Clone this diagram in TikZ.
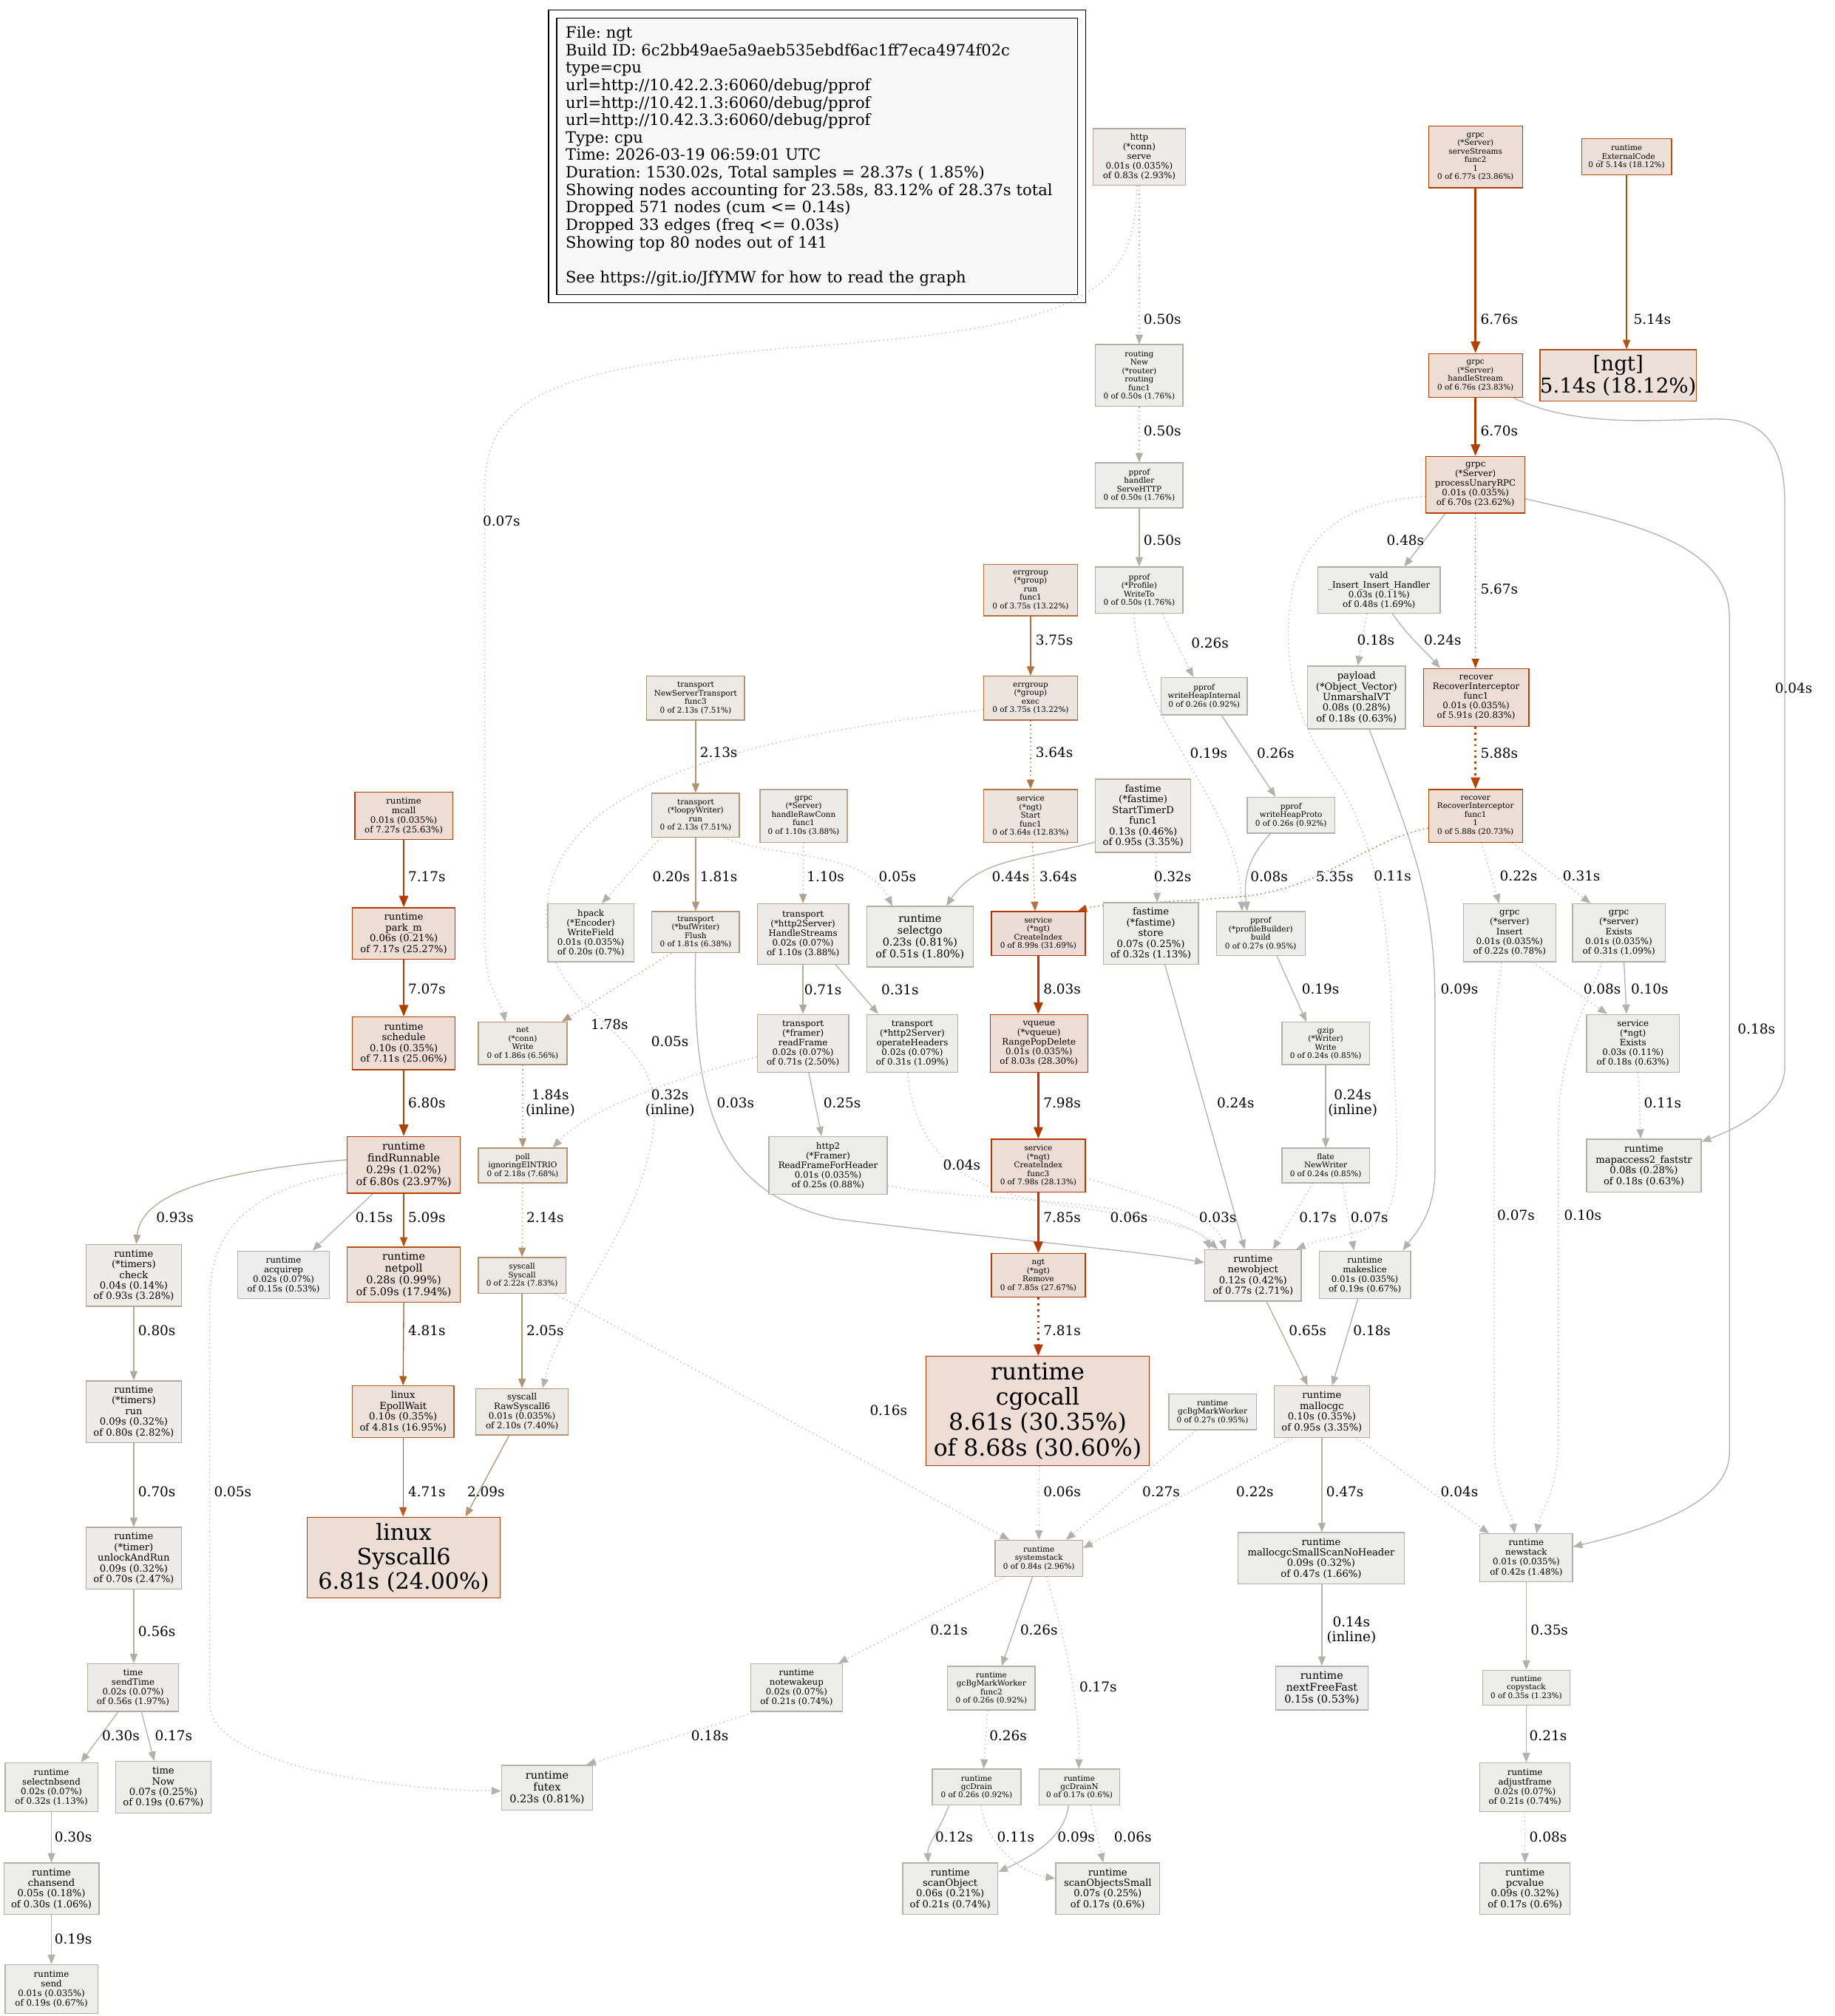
\documentclass[tikz,border=0pt]{standalone}
\usepackage{fontspec}
\setmainfont{DejaVu Serif}
\usetikzlibrary{arrows.meta,backgrounds}

\newcommand\mkcol[2]{%
  \pgfmathsetmacro\ppS{#2}%
  \pgfmathsetmacro\ppA{(\ppS<0.2) ? (\ppS/0.2) : 1}%
  \pgfmathsetmacro\ppP{pow(\ppS,0.3)}%
  \pgfmathsetmacro\ppFG{0.7*(1-\ppA*\ppP)}%
  \pgfmathsetmacro\ppFB{0.7*(1-\ppA)}%
  \pgfmathsetmacro\ppBG{0.93*(1-0.1*\ppA*\ppP)}%
  \pgfmathsetmacro\ppBB{0.93*(1-0.1*\ppA)}%
  \definecolor{#1fg}{rgb}{0.7,\ppFG,\ppFB}%
  \definecolor{#1bg}{rgb}{0.93,\ppBG,\ppBB}%
}
\frenchspacing
\newcommand\fza{\fontsize{6.0pt}{6.6pt}\selectfont}
\newcommand\fzb{\fontsize{6.8pt}{7.5pt}\selectfont}
\newcommand\fzc{\fontsize{7.55pt}{8.3pt}\selectfont}
\newcommand\fzd{\fontsize{8.3pt}{9.2pt}\selectfont}
\newcommand\fzu{\fontsize{15.9pt}{17.3pt}\selectfont}
\newcommand\fzv{\fontsize{17.4pt}{19pt}\selectfont}
\newcommand\fzw{\fontsize{18.1pt}{19.6pt}\selectfont}
\newcommand\fzl{\fontsize{10.6pt}{11.4pt}\selectfont}
\newcommand\fzg{\fontsize{12.1pt}{13.6pt}\selectfont\frenchspacing}
\definecolor{legbg}{rgb}{0.973,0.973,0.973}

\tikzset{
 nbox/.style={draw, rectangle, inner sep=0pt, align=center, line width=0.75pt},
 ed/.style={line width=0.75pt, -{Triangle[length=7.3pt,width=5.8pt]}},
 hv/.style={line width=1.5pt, -{Triangle[length=9pt,width=7pt]}},
 dt/.style={dash pattern=on 0.75pt off 2.5pt},
 hvd/.style={dash pattern=on 1.5pt off 3pt},
 wt/.code={\mkcol{ec}{#1/28.37}\pgfkeysalso{draw=ecfg}},
 lb/.style={font=\fzl, inner sep=0pt, align=center},
}

\newcommand\NB[8]{%
  \mkcol{#1}{#7/100}%
  \node[nbox, fill=#1bg, draw=#1fg, font=#6, minimum width=#4pt, minimum height=#5pt] (#1) at (#2,#3) {#8};%
}

\begin{document}
\begin{tikzpicture}[x=1pt,y=-1pt]
\useasboundingbox (0,0) rectangle (1427,1568);
\begin{pgfonlayer}{background}
\fill[white] (0,0) rectangle (1427,1568);
\end{pgfonlayer}

% legend
\node[draw, fill=legbg, line width=0.8pt, inner sep=0pt, minimum width=405pt, minimum height=215pt, text width=391pt, align=left, font=\fzg] (leg) at (635.5,121.5) {File: ngt\\Build ID: 6c2bb49ae5a9aeb535ebdf6ac1ff7eca4974f02c\\type=cpu\\url=http://10.42.2.3:6060/debug/pprof\\url=http://10.42.1.3:6060/debug/pprof\\url=http://10.42.3.3:6060/debug/pprof\\Type: cpu\\Time: 2026-03-19 06:59:01 UTC\\Duration: 1530.02s, Total samples = 28.37s ( 1.85\%)\\Showing nodes accounting for 23.58s, 83.12\% of 28.37s total\\Dropped 571 nodes (cum <= 0.14s)\\Dropped 33 edges (freq <= 0.03s)\\Showing top 80 nodes out of 141\\[13.6pt]See https://git.io/JfYMW for how to read the graph};
\draw[line width=0.8pt] ([shift={(-6pt,6pt)}]leg.north west) rectangle ([shift={(6pt,-6pt)}]leg.south east);

% nodes
\NB{http}{886}{122}{72}{44}{\fzb}{2.93}{http\\(*conn)\\serve\\0.01s (0.035\%)\\of 0.83s (2.93\%)}
\NB{route}{886}{292}{68}{48}{\fza}{1.76}{routing\\New\\(*router)\\routing\\func1\\0 of 0.50s (1.76\%)}
\NB{serve}{886}{377.5}{68}{35}{\fza}{1.76}{pprof\\handler\\ServeHTTP\\0 of 0.50s (1.76\%)}
\NB{writeto}{886}{459}{68}{36}{\fza}{1.76}{pprof\\(*Profile)\\WriteTo\\0 of 0.50s (1.76\%)}
\NB{whi}{936.5}{541.5}{67}{29}{\fza}{0.92}{pprof\\writeHeapInternal\\0 of 0.26s (0.92\%)}
\NB{whp}{1004}{634}{68}{28}{\fza}{0.92}{pprof\\writeHeapProto\\0 of 0.26s (0.92\%)}
\NB{build}{980.5}{726}{69}{34}{\fza}{0.95}{pprof\\(*profileBuilder)\\build\\0 of 0.27s (0.95\%)}
\NB{gzip}{1031}{811.5}{68}{33}{\fza}{0.85}{gzip\\(*Writer)\\Write\\0 of 0.24s (0.85\%)}
\NB{flate}{1031}{906.5}{68}{27}{\fza}{0.85}{flate\\NewWriter\\0 of 0.24s (0.85\%)}
\NB{ftimer}{889}{634.5}{74}{57}{\fzc}{3.35}{fastime\\(*fastime)\\StartTimerD\\func1\\0.13s (0.46\%)\\of 0.95s (3.35\%)}
\NB{fstore}{895}{726}{74}{48}{\fzc}{1.13}{fastime\\(*fastime)\\store\\0.07s (0.25\%)\\of 0.32s (1.13\%)}
\NB{start}{801.5}{634.5}{73}{41}{\fza}{12.83}{service\\(*ngt)\\Start\\func1\\0 of 3.64s (12.83\%)}
\NB{cidx}{807.5}{726}{73}{34}{\fza}{31.69}{service\\(*ngt)\\CreateIndex\\0 of 8.99s (31.69\%)}
\NB{vq}{808}{811.5}{76}{45}{\fzb}{28.30}{vqueue\\(*vqueue)\\RangePopDelete\\0.01s (0.035\%)\\of 8.03s (28.30\%)}
\NB{fthree}{807.5}{906.5}{73}{41}{\fza}{28.13}{service\\(*ngt)\\CreateIndex\\func3\\0 of 7.98s (28.13\%)}
\NB{rm}{807.5}{992}{73}{34}{\fza}{27.67}{ngt\\(*ngt)\\Remove\\0 of 7.85s (27.67\%)}
\NB{cgo}{807}{1097.5}{174}{85}{\fzw}{30.60}{runtime\\cgocall\\8.61s (30.35\%)\\of 8.68s (30.60\%)}
\NB{newobj}{974.5}{992}{75}{40}{\fzc}{2.71}{runtime\\newobject\\0.12s (0.42\%)\\of 0.77s (2.71\%)}
\NB{mkslice}{1061.5}{991.5}{71}{37}{\fzb}{0.67}{runtime\\makeslice\\0.01s (0.035\%)\\of 0.19s (0.67\%)}
\NB{malloc}{1028}{1098}{74}{40}{\fzc}{3.35}{runtime\\mallocgc\\0.10s (0.35\%)\\of 0.95s (3.35\%)}
\NB{gcbmw}{943}{1098}{68}{28}{\fza}{0.95}{runtime\\gcBgMarkWorker\\0 of 0.27s (0.95\%)}
\NB{sysstk}{808}{1212}{68}{28}{\fza}{2.96}{runtime\\systemstack\\0 of 0.84s (2.96\%)}
\NB{mssnh}{1027.5}{1212}{129}{40}{\fzc}{1.66}{runtime\\mallocgcSmallScanNoHeader\\0.09s (0.32\%)\\of 0.47s (1.66\%)}
\NB{newstack}{1187}{1211.5}{72}{37}{\fzb}{1.48}{runtime\\newstack\\0.01s (0.035\%)\\of 0.42s (1.48\%)}
\NB{notew}{619.5}{1312.5}{71}{37}{\fzb}{0.74}{runtime\\notewakeup\\0.02s (0.07\%)\\of 0.21s (0.74\%)}
\NB{gcftwo}{771}{1313}{68}{34}{\fza}{0.92}{runtime\\gcBgMarkWorker\\func2\\0 of 0.26s (0.92\%)}
\NB{nff}{1028}{1313}{72}{34}{\fzd}{0.53}{runtime\\nextFreeFast\\0.15s (0.53\%)}
\NB{copystk}{1187}{1312.5}{68}{27}{\fza}{1.23}{runtime\\copystack\\0 of 0.35s (1.23\%)}
\NB{sendtime}{103.5}{1312.5}{71}{37}{\fzb}{1.97}{time\\sendTime\\0.02s (0.07\%)\\of 0.56s (1.97\%)}
\NB{selnb}{40}{1390}{72}{38}{\fzb}{1.13}{runtime\\selectnbsend\\0.02s (0.07\%)\\of 0.32s (1.13\%)}
\NB{tnow}{127}{1390}{74}{40}{\fzc}{0.67}{time\\Now\\0.07s (0.25\%)\\of 0.19s (0.67\%)}
\NB{chansend}{40}{1469}{74}{40}{\fzc}{1.06}{runtime\\chansend\\0.05s (0.18\%)\\of 0.30s (1.06\%)}
\NB{rsend}{40}{1547}{72}{38}{\fzb}{0.67}{runtime\\send\\0.01s (0.035\%)\\of 0.19s (0.67\%)}
\NB{futex}{425.5}{1390.5}{71}{35}{\fzd}{0.81}{runtime\\futex\\0.23s (0.81\%)}
\NB{gcdrain}{759.5}{1390}{69}{28}{\fza}{0.92}{runtime\\gcDrain\\0 of 0.26s (0.92\%)}
\NB{gcdrainn}{839.5}{1390}{63}{28}{\fza}{0.6}{runtime\\gcDrainN\\0 of 0.17s (0.6\%)}
\NB{scanobj}{739}{1469}{74}{40}{\fzc}{0.74}{runtime\\scanObject\\0.06s (0.21\%)\\of 0.21s (0.74\%)}
\NB{scansmall}{861.5}{1469}{81}{40}{\fzc}{0.6}{runtime\\scanObjectsSmall\\0.07s (0.25\%)\\of 0.17s (0.6\%)}
\NB{adjf}{1186}{1390}{70}{38}{\fzb}{0.74}{runtime\\adjustframe\\0.02s (0.07\%)\\of 0.21s (0.74\%)}
\NB{pcvalue}{1186}{1469}{70}{40}{\fzc}{0.6}{runtime\\pcvalue\\0.09s (0.32\%)\\of 0.17s (0.6\%)}
\NB{syssix}{314}{1211.5}{150}{63}{\fzv}{24.00}{linux\\Syscall6\\6.81s (24.00\%)}
\NB{findr}{314}{906}{88}{44}{\fzd}{23.97}{runtime\\findRunnable\\0.29s (1.02\%)\\of 6.80s (23.97\%)}
\NB{tcheck}{104}{992}{74}{48}{\fzc}{3.28}{runtime\\(*timers)\\check\\0.04s (0.14\%)\\of 0.93s (3.28\%)}
\NB{acq}{220.5}{991.5}{71}{37}{\fzb}{0.53}{runtime\\acquirep\\0.02s (0.07\%)\\of 0.15s (0.53\%)}
\NB{netpoll}{314}{991.5}{88}{43}{\fzd}{17.94}{runtime\\netpoll\\0.28s (0.99\%)\\of 5.09s (17.94\%)}
\NB{syscall}{406}{992}{68}{28}{\fza}{7.83}{syscall\\Syscall\\0 of 2.22s (7.83\%)}
\NB{trun}{104}{1098}{74}{48}{\fzc}{2.82}{runtime\\(*timers)\\run\\0.09s (0.32\%)\\of 0.80s (2.82\%)}
\NB{epoll}{313.5}{1098}{79}{40}{\fzc}{16.95}{linux\\EpollWait\\0.10s (0.35\%)\\of 4.81s (16.95\%)}
\NB{rawsix}{406}{1098}{72}{36}{\fzb}{7.40}{syscall\\RawSyscall6\\0.01s (0.035\%)\\of 2.10s (7.40\%)}
\NB{unlock}{104}{1212}{74}{48}{\fzc}{2.47}{runtime\\(*timer)\\unlockAndRun\\0.09s (0.32\%)\\of 0.70s (2.47\%)}
\NB{poll}{406.5}{906.5}{69}{27}{\fza}{7.68}{poll\\ignoringEINTRIO\\0 of 2.18s (7.68\%)}
\NB{netw}{406.5}{811.5}{69}{33}{\fza}{6.56}{net\\(*conn)\\Write\\0 of 1.86s (6.56\%)}
\NB{rframe}{624.5}{811.5}{71}{45}{\fzb}{2.50}{transport\\(*framer)\\readFrame\\0.02s (0.07\%)\\of 0.71s (2.50\%)}
\NB{ophdr}{709.5}{811.5}{71}{45}{\fzb}{1.09}{transport\\(*http2Server)\\operateHeaders\\0.02s (0.07\%)\\of 0.31s (1.09\%)}
\NB{rffh}{644}{906.5}{92}{45}{\fzb}{0.88}{http2\\(*Framer)\\ReadFrameForHeader\\0.01s (0.035\%)\\of 0.25s (0.88\%)}
\NB{mcall}{314}{634.5}{76}{37}{\fzb}{25.63}{runtime\\mcall\\0.01s (0.035\%)\\of 7.27s (25.63\%)}
\NB{parkm}{314}{726}{80}{40}{\fzc}{25.27}{runtime\\park\_m\\0.06s (0.21\%)\\of 7.17s (25.27\%)}
\NB{sched}{314}{811.5}{80}{41}{\fzc}{25.06}{runtime\\schedule\\0.10s (0.35\%)\\of 7.11s (25.06\%)}
\NB{hpack}{459.5}{725.5}{67}{45}{\fzb}{0.7}{hpack\\(*Encoder)\\WriteField\\0.01s (0.035\%)\\of 0.20s (0.7\%)}
\NB{loopy}{541}{634}{68}{34}{\fza}{7.51}{transport\\(*loopyWriter)\\run\\0 of 2.13s (7.51\%)}
\NB{nst}{541}{543}{76}{34}{\fza}{7.51}{transport\\NewServerTransport\\func3\\0 of 2.13s (7.51\%)}
\NB{egrun}{801.5}{459}{73}{40}{\fza}{13.22}{errgroup\\(*group)\\run\\func1\\0 of 3.75s (13.22\%)}
\NB{egexec}{801.5}{543}{73}{34}{\fza}{13.22}{errgroup\\(*group)\\exec\\0 of 3.75s (13.22\%)}
\NB{hrc}{625}{634.5}{68}{41}{\fza}{3.88}{grpc\\(*Server)\\handleRawConn\\func1\\0 of 1.10s (3.88\%)}
\NB{flush}{541}{725}{68}{32}{\fza}{6.38}{transport\\(*bufWriter)\\Flush\\0 of 1.81s (6.38\%)}
\NB{hstreams}{624.5}{726.5}{71}{47}{\fzb}{3.88}{transport\\(*http2Server)\\HandleStreams\\0.02s (0.07\%)\\of 1.10s (3.88\%)}
\NB{selectgo}{715.5}{728.5}{83}{47}{\fzd}{1.80}{runtime\\selectgo\\0.23s (0.81\%)\\of 0.51s (1.80\%)}
\NB{vald}{1072.5}{459}{95}{36}{\fzb}{1.69}{vald\\\_Insert\_Insert\_Handler\\0.03s (0.11\%)\\of 0.48s (1.69\%)}
\NB{payload}{1055}{542.5}{76}{49}{\fzc}{0.63}{payload\\(*Object\_Vector)\\UnmarshalVT\\0.08s (0.28\%)\\of 0.18s (0.63\%)}
\NB{rifa}{1148}{542.5}{82}{45}{\fzb}{20.83}{recover\\RecoverInterceptor\\func1\\0.01s (0.035\%)\\of 5.91s (20.83\%)}
\NB{rifb}{1147.5}{634.5}{73}{41}{\fza}{20.73}{recover\\RecoverInterceptor\\func1\\1\\0 of 5.88s (20.73\%)}
\NB{ginsert}{1174}{725.5}{72}{45}{\fzb}{0.78}{grpc\\(*server)\\Insert\\0.01s (0.035\%)\\of 0.22s (0.78\%)}
\NB{gexists}{1259}{725.5}{72}{45}{\fzb}{1.09}{grpc\\(*server)\\Exists\\0.01s (0.035\%)\\of 0.31s (1.09\%)}
\NB{sexists}{1270}{811.5}{72}{45}{\fzb}{0.63}{service\\(*ngt)\\Exists\\0.03s (0.11\%)\\of 0.18s (0.63\%)}
\NB{mapacc}{1278.5}{906.5}{89}{41}{\fzc}{0.63}{runtime\\mapaccess2\_faststr\\0.08s (0.28\%)\\of 0.18s (0.63\%)}
\NB{pur}{1147.5}{377}{77}{44}{\fzb}{23.62}{grpc\\(*Server)\\processUnaryRPC\\0.01s (0.035\%)\\of 6.70s (23.62\%)}
\NB{hstream}{1147.5}{292}{73}{34}{\fza}{23.83}{grpc\\(*Server)\\handleStream\\0 of 6.76s (23.83\%)}
\NB{sstreams}{1147.5}{122}{73}{48}{\fza}{23.86}{grpc\\(*Server)\\serveStreams\\func2\\1\\0 of 6.77s (23.86\%)}
\NB{extcode}{1265}{122}{70}{28}{\fza}{18.12}{runtime\\\_ExternalCode\\0 of 5.14s (18.12\%)}
\NB{ngt}{1258.5}{292}{121}{40}{\fzu}{18.12}{[ngt]\\5.14s (18.12\%)}

% edges
\begin{pgfonlayer}{background}
\draw[ed,dt,wt=0.50] (http.south) -- (route.north);
\draw[ed,dt,wt=0.07] (http.south -| 884,0) .. controls (884,230) and (840,255) .. (620,270) .. controls (450,285) and (377,300) .. (377,380) -- (377,730) .. controls (377,770) and (390,780) .. (netw.north -| 393,0);
\draw[ed,dt,wt=0.50] (route.south) -- (serve.north);
\draw[ed,wt=0.50] (serve.south) -- (writeto.north);
\draw[ed,dt,wt=0.26] (writeto.south -| 904,0) -- (whi.north -| 928,0);
\draw[ed,dt,wt=0.19] (writeto.south -| 882,0) .. controls (886,570) and (963,620) .. (build.north -| 966,0);
\draw[ed,wt=0.26] (whi.south -| 950,0) -- (whp.north -| 992,0);
\draw[ed,wt=0.08] (whp.south -| 988,0) .. controls (966,672) and (968,690) .. (build.north -| 970,0);
\draw[ed,wt=0.19] (build.south -| 993,0) -- (gzip.north -| 1016,0);
\draw[ed,wt=0.24] (gzip.south) -- (flate.north);
\draw[ed,dt,wt=0.17] (flate.south -| 1021,0) -- (newobj.north -| 990,0);
\draw[ed,dt,wt=0.07] (flate.south -| 1044,0) -- (mkslice.north -| 1053,0);
\draw[ed,wt=0.44] (ftimer.west |- 0,655) .. controls (800,668) and (760,668) .. (selectgo.north -| 736,0);
\draw[ed,dt,wt=0.32] (ftimer.south -| 899,0) -- (fstore.north -| 900,0);
\draw[ed,wt=0.24] (fstore.south -| 906,0) -- (newobj.north -| 968,0);
\draw[ed,wt=3.75] (egrun.south) -- (egexec.north);
\draw[ed,dt,wt=3.64] (egexec.south) -- (start.north);
\draw[ed,dt,wt=3.64] (start.south -| 803,0) -- (cidx.north -| 805,0);
\draw[ed,dt,wt=0.05] (egexec.west |- 0,552) .. controls (560,575) and (428,615) .. (425,710) .. controls (422,790) and (515,800) .. (509,870) .. controls (503,950) and (440,1010) .. (rawsix.north -| 422,0);
\draw[ed,wt=2.13] (nst.south) -- (loopy.north);
\draw[ed,dt,wt=0.20] (loopy.south -| 514,0) -- (hpack.north -| 468,0);
\draw[ed,wt=1.81] (loopy.south) -- (flush.north);
\draw[ed,dt,wt=0.05] (loopy.south -| 563,0) .. controls (600,668) and (672,660) .. (selectgo.north -| 694,0);
\draw[ed,dt,wt=1.10] (hrc.south) -- (hstreams.north);
\draw[ed,wt=0.71] (hstreams.south) -- (rframe.north);
\draw[ed,wt=0.31] (hstreams.south -| 650,0) -- (ophdr.north -| 683,0);
\draw[ed,dt,wt=0.32] (rframe.west |- 0,822) .. controls (530,838) and (460,860) .. (poll.north -| 430,0);
\draw[ed,wt=0.25] (rframe.south -| 629,0) -- (rffh.north -| 639,0);
\draw[ed,dt,wt=0.04] (ophdr.south -| 706,0) .. controls (712,905) and (760,928) .. (830,938) .. controls (900,948) and (935,955) .. (newobj.north -| 941,0);
\draw[ed,dt,wt=0.06] (rffh.east |- 0,922) .. controls (750,935) and (905,930) .. (newobj.north -| 947,0);
\draw[ed,dt,wt=0.03] (fthree.east |- 0,916) .. controls (890,930) and (945,945) .. (newobj.north -| 953,0);
\draw[ed,wt=0.03] (flush.south) .. controls (537,880) and (570,930) .. (650,948) .. controls (760,962) and (880,972) .. (newobj.west |- 0,982);
\draw[ed,dt,wt=1.84] (netw.south) -- (poll.north);
\draw[ed,dt,wt=1.78] (flush.south -| 522,0) -- (netw.north -| 437,0);
\draw[ed,dt,wt=2.14] (poll.south) -- (syscall.north);
\draw[ed,wt=2.05] (syscall.south) -- (rawsix.north);
\draw[ed,dt,wt=0.16] (syscall.south -| 432,0) -- (sysstk.north -| 785,0);
\draw[ed,wt=2.09] (rawsix.south -| 396,0) -- (syssix.north -| 362,0);
\draw[ed,hv,wt=7.17] (mcall.south) -- (parkm.north);
\draw[ed,hv,wt=7.07] (parkm.south) -- (sched.north);
\draw[ed,hv,wt=6.80] (sched.south) -- (findr.north);
\draw[ed,wt=0.93] (findr.west |- 0,902) .. controls (180,910) and (110,925) .. (tcheck.north -| 106,0);
\draw[ed,dt,wt=0.05] (findr.west |- 0,912) .. controls (200,925) and (164,950) .. (163,1010) -- (163,1326) .. controls (165,1372) and (300,1392) .. (futex.west |- 0,1393);
\draw[ed,wt=0.15] (findr.south -| 290,0) -- (acq.north -| 243,0);
\draw[ed,wt=5.09] (findr.south) -- (netpoll.north);
\draw[ed,wt=4.81] (netpoll.south) -- (epoll.north);
\draw[ed,wt=4.71] (epoll.south) -- (syssix.north -| 313.5,0);
\draw[ed,wt=0.80] (tcheck.south) -- (trun.north);
\draw[ed,wt=0.70] (trun.south) -- (unlock.north);
\draw[ed,wt=0.56] (unlock.south) -- (sendtime.north -| 104,0);
\draw[ed,wt=0.30] (sendtime.south -| 92,0) -- (selnb.north -| 63,0);
\draw[ed,wt=0.17] (sendtime.south -| 110,0) -- (tnow.north -| 120,0);
\draw[ed,wt=0.30] (selnb.south) -- (chansend.north);
\draw[ed,wt=0.19] (chansend.south) -- (rsend.north);
\draw[ed,dt,wt=0.18] (notew.south -| 588,0) -- (futex.north -| 456,0);
\draw[ed,dt,wt=0.21] (sysstk.south -| 781,0) -- (notew.north -| 652,0);
\draw[ed,wt=0.26] (sysstk.south -| 803,0) -- (gcftwo.north -| 779,0);
\draw[ed,dt,wt=0.17] (sysstk.south -| 814,0) .. controls (830,1280) and (840,1330) .. (gcdrainn.north -| 839,0);
\draw[ed,dt,wt=0.26] (gcftwo.south -| 768,0) -- (gcdrain.north -| 765,0);
\draw[ed,wt=0.12] (gcdrain.south -| 738,0) .. controls (730,1425) and (721,1435) .. (scanobj.north -| 722,0);
\draw[ed,dt,wt=0.11] (gcdrain.south -| 763,0) .. controls (768,1440) and (800,1458) .. (scansmall.west |- 0,1461);
\draw[ed,wt=0.09] (gcdrainn.south -| 831,0) .. controls (828,1430) and (800,1445) .. (scanobj.east |- 0,1456);
\draw[ed,dt,wt=0.06] (gcdrainn.south -| 848,0) -- (scansmall.north -| 858,0);
\draw[ed,dt,wt=0.06] (cgo.south -| 808,0) -- (sysstk.north -| 808,0);
\draw[ed,dt,wt=0.27] (gcbmw.south -| 930,0) -- (sysstk.north -| 829,0);
\draw[ed,dt,wt=0.22] (malloc.south -| 1005,0) -- (sysstk.east |- 0,1204);
\draw[ed,wt=0.47] (malloc.south) -- (mssnh.north -| 1028,0);
\draw[ed,dt,wt=0.04] (malloc.south -| 1055,0) -- (newstack.north -| 1158,0);
\draw[ed,wt=0.14] (mssnh.south -| 1028,0) -- (nff.north);
\draw[ed,wt=0.35] (newstack.south) -- (copystk.north);
\draw[ed,wt=0.21] (copystk.south) -- (adjf.north -| 1187,0);
\draw[ed,dt,wt=0.08] (adjf.south) -- (pcvalue.north);
\draw[ed,wt=0.65] (newobj.south -| 985,0) -- (malloc.north -| 1017,0);
\draw[ed,wt=0.18] (mkslice.south -| 1056,0) -- (malloc.north -| 1036,0);
\draw[ed,wt=0.09] (payload.south -| 1065,0) .. controls (1100,660) and (1116,700) .. (1116,780) -- (1116,910) .. controls (1116,945) and (1100,960) .. (mkslice.north -| 1091,0);
\draw[ed,wt=0.48] (pur.south -| 1124,0) -- (vald.north -| 1092,0);
\draw[ed,dt,wt=5.67] (pur.south) -- (rifa.north -| 1147.5,0);
\draw[ed,dt,wt=0.11] (pur.west |- 0,386) .. controls (1030,392) and (1000,430) .. (1002,500) .. controls (1004,560) and (1030,590) .. (1045,615) .. controls (1070,660) and (1080,720) .. (1082,780) .. controls (1086,880) and (1092,930) .. (1075,948) .. controls (1060,962) and (1030,962) .. (newobj.north -| 1008,0);
\draw[ed,dt,wt=0.18] (vald.south -| 1063,0) -- (payload.north -| 1056,0);
\draw[ed,wt=0.24] (vald.south -| 1083,0) .. controls (1095,495) and (1110,508) .. (rifa.north -| 1120,0);
\draw[ed,hv,dt,hvd,wt=5.88] (rifa.south -| 1147.5,0) -- (rifb.north);
\draw[ed,dt,wt=5.35] (rifb.west |- 0,644) .. controls (1060,655) and (1030,690) .. (969,697) .. controls (900,703) and (860,702) .. (cidx.north -| 838,0);
\draw[ed,dt,wt=0.22] (rifb.south -| 1152,0) -- (ginsert.north -| 1166,0);
\draw[ed,dt,wt=0.31] (rifb.south -| 1176,0) -- (gexists.north -| 1237,0);
\draw[ed,dt,wt=0.08] (ginsert.south -| 1192,0) -- (sexists.north -| 1250,0);
\draw[ed,wt=0.10] (gexists.south -| 1263,0) -- (sexists.north -| 1265,0);
\draw[ed,dt,wt=0.07] (ginsert.south -| 1168,0) .. controls (1162,790) and (1162,800) .. (1162,860) -- (1162,1120) .. controls (1162,1160) and (1175,1175) .. (newstack.north -| 1178,0);
\draw[ed,dt,wt=0.10] (gexists.south -| 1246,0) .. controls (1230,790) and (1212,820) .. (1212,880) -- (1212,1120) .. controls (1212,1160) and (1198,1175) .. (newstack.north -| 1195,0);
\draw[ed,dt,wt=0.11] (sexists.south -| 1274,0) -- (mapacc.north -| 1276,0);
\draw[ed,wt=0.04] (hstream.south -| 1177,0) .. controls (1230,335) and (1300,325) .. (1340,326) .. controls (1370,327) and (1388,345) .. (1388,390) -- (1388,830) .. controls (1388,860) and (1350,878) .. (mapacc.east |- 0,888);
\draw[ed,wt=0.18] (pur.east |- 0,388) .. controls (1260,405) and (1345,420) .. (1345,480) -- (1345,1130) .. controls (1345,1172) and (1270,1192) .. (newstack.east |- 0,1203);
\draw[ed,hv,wt=6.70] (hstream.south) -- (pur.north);
\draw[ed,hv,wt=6.76] (sstreams.south) -- (hstream.north);
\draw[ed,wt=5.14] (extcode.south) -- (ngt.north -| 1265,0);
\draw[ed,hv,wt=8.03] (cidx.south) -- (vq.north -| 807.5,0);
\draw[ed,hv,wt=7.98] (vq.south -| 807.5,0) -- (fthree.north);
\draw[ed,hv,wt=7.85] (fthree.south) -- (rm.north);
\draw[ed,hv,dt,hvd,wt=7.81] (rm.south) -- (cgo.north -| 807.5,0);
\end{pgfonlayer}

% edge labels
\node[lb] (l1) at (904,248) {0.50s};
\node[lb] (l2) at (1166,248) {6.76s};
\node[lb] (l3) at (1285,248) {5.14s};
\node[lb] (l4) at (904,335) {0.50s};
\node[lb] (l5) at (1166,335) {6.70s};
\node[lb] (l6) at (1395,535) {0.04s};
\node[lb] (l7) at (904,420) {0.50s};
\node[lb] (l8) at (1093,420) {0.48s};
\node[lb] (l9) at (1166,458) {5.67s};
\node[lb] (l10) at (390,405) {0.07s};
\node[lb] (l11) at (820,498) {3.75s};
\node[lb] (l12) at (941,500) {0.26s};
\node[lb] (l13) at (1070,498) {0.18s};
\node[lb] (l14) at (1122,498) {0.24s};
\node[lb] (l15) at (559,585) {2.13s};
\node[lb] (l16) at (820,585) {3.64s};
\node[lb] (l17) at (940,586) {0.19s};
\node[lb] (l18) at (992,586) {0.26s};
\node[lb] (l19) at (1166,586) {5.88s};
\node[lb] (l20) at (522,682) {0.20s};
\node[lb] (l21) at (559,682) {1.81s};
\node[lb] (l22) at (642,682) {1.10s};
\node[lb] (l23) at (698,682) {0.05s};
\node[lb] (l24) at (786,682) {0.44s};
\node[lb] (l25) at (823,682) {3.64s};
\node[lb] (l26) at (912,682) {0.32s};
\node[lb] (l27) at (987,682) {0.08s};
\node[lb] (l28) at (1038,682) {5.35s};
\node[lb] (l29) at (1083,681) {0.11s};
\node[lb] (l30) at (1181,681) {0.22s};
\node[lb] (l31) at (1230,681) {0.31s};
\node[lb] (l32) at (332,682) {7.17s};
\node[lb] (l33) at (332,769) {7.07s};
\node[lb] (l34) at (826,769) {8.03s};
\node[lb] (l35) at (1027,769) {0.19s};
\node[lb] (l36) at (474,797) {1.78s};
\node[lb] (l37) at (640,770) {0.71s};
\node[lb] (l38) at (700,770) {0.31s};
\node[lb] (l39) at (521,810) {0.05s};
\node[lb] (l40) at (1246,769) {0.08s};
\node[lb] (l41) at (1283,769) {0.10s};
\node[lb] (l42) at (1135,769) {0.09s};
\node[lb] (l43) at (1366,800) {0.18s};
\node[lb] (l44) at (428,858) {1.84s\\(inline)};
\node[lb] (l45) at (521,858) {0.32s\\(inline)};
\node[lb] (l46) at (572,858) {0.03s};
\node[lb] (l47) at (655,858) {0.25s};
\node[lb] (l48) at (826,858) {7.98s};
\node[lb] (l49) at (961,858) {0.24s};
\node[lb] (l50) at (1052,858) {0.24s\\(inline)};
\node[lb] (l51) at (1293,858) {0.11s};
\node[lb] (l52) at (332,858) {6.80s};
\node[lb] (l53) at (424,947) {2.14s};
\node[lb] (l54) at (748,906) {0.04s};
\node[lb] (l55) at (826,947) {7.85s};
\node[lb] (l56) at (878,947) {0.06s};
\node[lb] (l57) at (947,947) {0.03s};
\node[lb] (l58) at (1025,947) {0.17s};
\node[lb] (l59) at (1065,947) {0.07s};
\node[lb] (l60) at (1179,945) {0.07s};
\node[lb] (l61) at (1231,945) {0.10s};
\node[lb] (l62) at (136,947) {0.93s};
\node[lb] (l63) at (291,947) {0.15s};
\node[lb] (l64) at (332,947) {5.09s};
\node[lb] (l65) at (122,1035) {0.80s};
\node[lb] (l66) at (332,1035) {4.81s};
\node[lb] (l67) at (424,1035) {2.05s};
\node[lb] (l68) at (691,1097) {0.16s};
\node[lb] (l69) at (826,1035) {7.81s};
\node[lb] (l70) at (1017,1035) {0.65s};
\node[lb] (l71) at (1067,1035) {0.18s};
\node[lb] (l72) at (122,1160) {0.70s};
\node[lb] (l73) at (181,1160) {0.05s};
\node[lb] (l74) at (332,1160) {4.71s};
\node[lb] (l75) at (378,1160) {2.09s};
\node[lb] (l76) at (826,1160) {0.06s};
\node[lb] (l77) at (903,1160) {0.27s};
\node[lb] (l78) at (976,1160) {0.22s};
\node[lb] (l79) at (1046,1160) {0.47s};
\node[lb] (l80) at (1135,1160) {0.04s};
\node[lb] (l81) at (122,1269) {0.56s};
\node[lb] (l82) at (738,1268) {0.21s};
\node[lb] (l83) at (808,1268) {0.26s};
\node[lb] (l84) at (854,1312) {0.17s};
\node[lb] (l85) at (1051,1268) {0.14s\\(inline)};
\node[lb] (l86) at (1205,1268) {0.35s};
\node[lb] (l87) at (94,1350) {0.30s};
\node[lb] (l88) at (135,1350) {0.17s};
\node[lb] (l89) at (552,1350) {0.18s};
\node[lb] (l90) at (784,1350) {0.26s};
\node[lb] (l91) at (1204,1350) {0.21s};
\node[lb] (l92) at (57,1429) {0.30s};
\node[lb] (l93) at (742,1429) {0.12s};
\node[lb] (l94) at (790,1429) {0.11s};
\node[lb] (l95) at (837,1429) {0.09s};
\node[lb] (l96) at (881,1429) {0.06s};
\node[lb] (l97) at (1204,1429) {0.08s};
\node[lb] (l98) at (57,1508) {0.19s};
\end{tikzpicture}
\end{document}
